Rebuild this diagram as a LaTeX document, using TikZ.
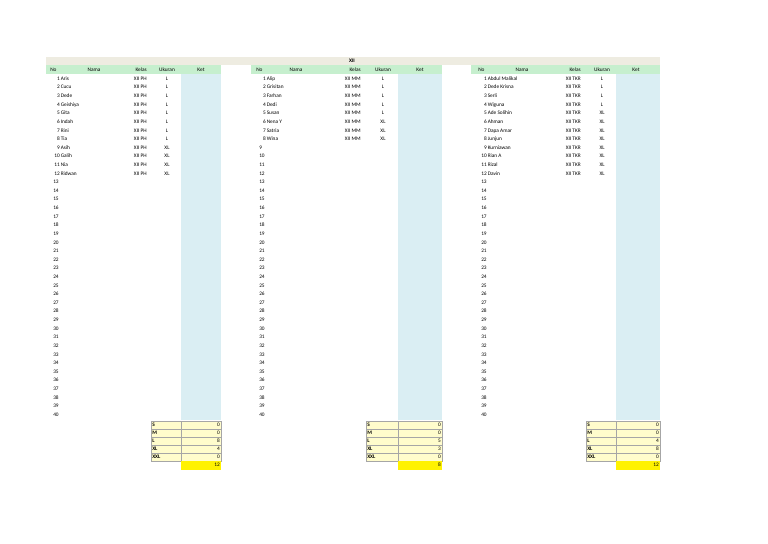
\documentclass[tikz,border=0pt]{standalone}
\usepackage{fontspec}
\setmainfont{Carlito}
\definecolor{beige}{HTML}{EEECE1}
\definecolor{hdr}{HTML}{C6EFCE}
\definecolor{blu}{HTML}{DAEEF3}
\begin{document}
\begin{tikzpicture}[x=0.75pt,y=-0.75pt,font=\fontsize{4}{5}\selectfont,
  every node/.style={text height=2.9pt,text depth=0.9pt},
  t/.style={inner sep=0pt,anchor=west},
  r/.style={inner sep=0pt,anchor=east},
  c/.style={inner sep=0pt},
  box/.style={draw=gray!70,line width=0.3pt,fill=yellow!20}]
\useasboundingbox (0,0) rectangle (768,543);
\fill[white] (0,0) rectangle (768,543);
\fill[beige] (46,57) rectangle (660,65);
\node[c,font=\fontsize{4}{5}\selectfont\bfseries] (xii) at (352,61) {XII};
\def\rp{8.615}
\foreach \bx/\be/\nx/\nmx/\kx/\ux/\kt/\bl/\nm in {46/221/50/94/147/167/201/181/a,251/442/256/296/361/383/420/398/b,471/660/478/522/581/602/636/616/c}{
  \fill[hdr] (\bx,65) rectangle (\be,74);
  \fill[blu] (\bl,74) rectangle (\be,420);
  \node[t] (no\nm) at (\nx,70) {No};
  \node[c] (na\nm) at (\nmx,70) {Nama};
  \node[r] (ke\nm) at (\kx,70) {Kelas};
  \node[c] (uk\nm) at (\ux,70) {Ukuran};
  \node[c] (kt\nm) at (\kt,70) {Ket};
  \foreach \i in {13,...,40}{\node[t] at (\nx+3,{79+(\i-1)*\rp}) {\i};}
}
\foreach \i/\n/\u in {1/Aris/L,2/Cucu/L,3/Dede/L,4/Geishiya/L,5/Gita/L,6/Indah/L,7/Rini/L,8/Tia/L,9/Asih/XL,10/Galih/XL,11/Nia/XL,12/Ridwan/XL}{
  \node[r] at (60,{79+(\i-1)*\rp}) {\i};
  \node[t] at (60.5,{79+(\i-1)*\rp}) {\n};
  \node[r] at (147,{79+(\i-1)*\rp}) {XII PH};
  \node[c] at (167,{79+(\i-1)*\rp}) {\u};}
\foreach \i/\n/\u in {1/Alip/L,2/Grisitan/L,3/Farhan/L,4/Dedi/L,5/Susan/L,6/Nena Y/XL,7/Satria/XL,8/Wina/XL}{
  \node[r] at (266,{79+(\i-1)*\rp}) {\i};
  \node[t] at (266.5,{79+(\i-1)*\rp}) {\n};
  \node[r] at (361,{79+(\i-1)*\rp}) {XII MM};
  \node[c] at (383,{79+(\i-1)*\rp}) {\u};}
\foreach \i in {9,...,12}{\node[t] at (259,{79+(\i-1)*\rp}) {\i};}
\foreach \i/\n/\u in {1/Abdul Malikal/L,2/Dede Krisna/L,3/Serli/L,4/Wiguna/L,5/Ade Solihin/XL,6/Ahman/XL,7/Dapa Amar/XL,8/Junjun/XL,9/Kurniawan/XL,10/Rian A/XL,11/Rizal/XL,12/Davin/XL}{
  \node[r] at (487,{79+(\i-1)*\rp}) {\i};
  \node[t] at (487.5,{79+(\i-1)*\rp}) {\n};
  \node[r] at (581,{79+(\i-1)*\rp}) {XII TKR};
  \node[c] at (602,{79+(\i-1)*\rp}) {\u};}
\foreach \lx/\m/\r/\vals/\tot/\nm in {151/181/221/{0,0,8,4,0}/12/a,366/398/442/{0,0,5,3,0}/8/b,586/616/660/{0,0,4,8,0}/12/c}{
  \foreach \s [count=\k] in {S,M,L,XL,XXL}{
    \draw[box] (\lx,{421+(\k-1)*8}) rectangle (\m,{429+(\k-1)*8});
    \draw[box] (\m,{421+(\k-1)*8}) rectangle (\r,{429+(\k-1)*8});
    \node[t,font=\fontsize{4}{5}\selectfont\bfseries] at (\lx+1,{425+(\k-1)*8}) {\s};}
  \foreach \v [count=\k] in \vals {\node[r] at (\r-1,{425+(\k-1)*8}) {\v};}
  \fill[yellow] (\m,461) rectangle (\r,470);
  \node[r] (tot\nm) at (\r-1,465.5) {\tot};
}
\end{tikzpicture}
\end{document}
